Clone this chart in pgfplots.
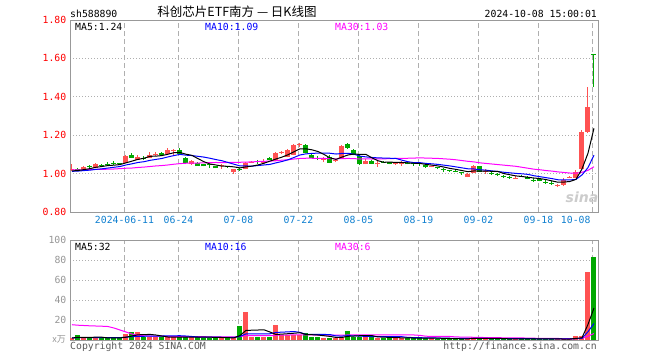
\documentclass[border=0pt]{standalone}
\usepackage{pgfplots}
\pgfplotsset{compat=1.18}
\usepackage{pgfplotstable}
\usepackage{fontspec}
\setmainfont{DejaVu Sans}
\setmonofont{DejaVu Sans Mono}
\newfontfamily\cjk{Noto Sans CJK SC}
\definecolor{kred}{RGB}{255,82,82}
\definecolor{kgreen}{RGB}{0,168,0}
\definecolor{maten}{RGB}{0,0,255}
\definecolor{mathirty}{RGB}{255,0,255}
\definecolor{dateblue}{RGB}{16,128,208}
\definecolor{gridgray}{RGB}{175,175,175}
\definecolor{bordergray}{RGB}{153,153,153}
\definecolor{tickred}{RGB}{255,0,0}
\definecolor{volgray}{RGB}{150,150,150}
\definecolor{copygray}{RGB}{90,90,90}

\pgfplotstableread{
i o h l c v
0 1.020 1.050 1.015 1.025 2
2 1.026 1.040 1.024 1.036 2
4 1.030 1.055 1.028 1.050 2.5
9 1.056 1.096 1.054 1.094 6
11 1.075 1.095 1.072 1.090 8
13 1.085 1.110 1.082 1.100 3
14 1.100 1.112 1.092 1.100 3
16 1.104 1.135 1.100 1.125 3
17 1.120 1.130 1.090 1.120 3
20 1.050 1.070 1.045 1.068 3
25 1.040 1.048 1.025 1.040 2
27 1.012 1.026 1.000 1.024 2
29 1.026 1.060 1.022 1.057 28
30 1.060 1.068 1.055 1.060 3
32 1.060 1.075 1.058 1.070 3
34 1.070 1.115 1.068 1.110 15.5
35 1.110 1.120 1.100 1.110 5
36 1.090 1.130 1.085 1.125 5
37 1.100 1.155 1.095 1.150 5.5
38 1.150 1.160 1.140 1.150 5.5
42 1.075 1.085 1.060 1.075 2
44 1.070 1.075 1.060 1.070 2
45 1.080 1.150 1.078 1.146 3.5
49 1.050 1.075 1.048 1.070 3
51 1.050 1.065 1.035 1.060 2.5
54 1.050 1.062 1.045 1.060 2
55 1.055 1.065 1.040 1.055 2
60 1.035 1.040 1.032 1.035 2
66 0.985 1.002 0.982 1.000 1.2
67 1.005 1.045 1.002 1.040 3
69 1.010 1.025 1.000 1.010 1.2
74 0.975 0.990 0.972 0.980 1.2
81 0.940 0.945 0.930 0.940 1
82 0.945 0.976 0.935 0.970 1
83 0.980 0.990 0.975 0.980 1
84 0.980 1.020 0.978 1.010 4
85 1.026 1.225 1.020 1.220 4
86 1.220 1.450 1.210 1.350 68
}\redtab

\pgfplotstableread{
i o h l c v
1 1.025 1.028 1.015 1.020 5.5
3 1.035 1.045 1.030 1.035 2
5 1.046 1.048 1.040 1.042 2
6 1.045 1.062 1.040 1.045 2
7 1.060 1.064 1.045 1.050 2
8 1.050 1.056 1.045 1.050 2
10 1.100 1.105 1.080 1.085 8
12 1.080 1.090 1.072 1.080 3
15 1.110 1.112 1.098 1.100 3
18 1.125 1.135 1.100 1.104 3
19 1.083 1.085 1.050 1.057 3
21 1.057 1.060 1.040 1.042 3
22 1.050 1.052 1.038 1.040 2.5
23 1.045 1.050 1.030 1.045 2.5
24 1.040 1.042 1.028 1.030 2.5
26 1.040 1.042 1.030 1.035 2
28 1.024 1.028 1.015 1.020 14
31 1.065 1.072 1.052 1.065 3
33 1.085 1.088 1.072 1.075 3
39 1.150 1.155 1.105 1.110 7
40 1.100 1.102 1.082 1.085 3.5
41 1.080 1.090 1.070 1.080 3.5
43 1.090 1.095 1.055 1.060 2
46 1.156 1.160 1.130 1.136 9
47 1.125 1.130 1.095 1.100 3.5
48 1.094 1.096 1.045 1.050 3.5
50 1.070 1.072 1.050 1.055 3
52 1.065 1.068 1.055 1.060 2.5
53 1.055 1.062 1.048 1.055 2
56 1.057 1.060 1.048 1.050 2
57 1.050 1.060 1.042 1.050 2
58 1.050 1.058 1.042 1.050 2
59 1.045 1.048 1.030 1.035 2
61 1.030 1.035 1.022 1.030 1.2
62 1.020 1.028 1.008 1.020 1.2
63 1.015 1.020 1.010 1.015 1.2
64 1.012 1.018 1.008 1.012 1.2
65 1.005 1.010 0.995 1.005 1.2
68 1.040 1.042 1.008 1.010 2
70 1.000 1.008 0.995 1.000 1.2
71 0.995 1.002 0.985 0.995 1.2
72 0.985 0.995 0.975 0.985 1.2
73 0.980 0.988 0.972 0.980 1.2
75 0.990 0.995 0.982 0.985 1.2
76 0.985 0.990 0.970 0.975 1.2
77 0.965 0.975 0.955 0.965 1.2
78 0.975 0.978 0.960 0.965 1
79 0.955 0.968 0.945 0.955 1
80 0.950 0.960 0.940 0.950 1
87 1.620 1.620 1.450 1.620 83
}\greentab

\pgfplotstableread{
i m5 m10 m30 v5 v10 v30
0 1.014 1.012 1.019 2.0 2.0 15.3
1 1.016 1.013 1.019 2.7 2.35 14.8
2 1.021 1.016 1.020 2.7 2.35 14.5
3 1.026 1.018 1.021 2.7 2.35 14.2
4 1.033 1.022 1.022 2.8 2.4 14.0
5 1.037 1.025 1.022 2.8 2.4 13.8
6 1.042 1.029 1.023 2.1 2.4 13.5
7 1.044 1.033 1.024 2.1 2.4 12.0
8 1.047 1.037 1.026 2.1 2.4 10.0
9 1.056 1.045 1.028 2.8 2.8 8.0
10 1.065 1.051 1.029 4.0 3.4 6.0
11 1.074 1.058 1.032 5.2 3.65 4.8
12 1.080 1.062 1.034 5.4 3.75 4.2
13 1.090 1.069 1.037 5.6 3.85 4.0
14 1.091 1.074 1.040 5.0 3.9 3.9
15 1.094 1.079 1.042 4.0 4.0 3.8
16 1.101 1.087 1.045 3.0 4.1 3.7
17 1.109 1.094 1.049 3.0 4.2 3.6
18 1.110 1.100 1.052 3.0 4.3 3.5
19 1.101 1.096 1.054 3.0 4.0 3.5
20 1.095 1.094 1.054 3.0 3.5 3.4
21 1.078 1.090 1.055 3.0 3.0 3.3
22 1.062 1.086 1.056 2.9 2.95 3.3
23 1.050 1.080 1.057 2.8 2.9 3.2
24 1.045 1.073 1.058 2.7 2.85 3.2
25 1.039 1.067 1.057 2.5 2.75 3.1
26 1.038 1.058 1.058 2.3 2.65 3.1
27 1.035 1.049 1.059 2.2 2.55 3.05
28 1.030 1.040 1.059 4.5 3.65 3.45
29 1.035 1.040 1.060 9.6 6.15 4.32
30 1.039 1.039 1.061 9.8 6.15 4.35
31 1.045 1.042 1.063 10.0 6.15 4.27
32 1.054 1.045 1.064 10.2 6.2 4.3
33 1.065 1.048 1.065 8.0 6.25 4.33
34 1.076 1.056 1.067 5.5 7.55 4.77
35 1.086 1.063 1.070 5.9 7.85 4.87
36 1.098 1.072 1.072 6.3 8.15 4.97
37 1.114 1.084 1.076 6.8 8.5 5.08
38 1.129 1.097 1.079 7.3 7.65 5.2
39 1.129 1.103 1.080 5.6 5.55 5.23
40 1.124 1.105 1.080 5.3 5.6 5.08
41 1.115 1.107 1.079 5.0 5.65 4.93
42 1.100 1.107 1.079 4.3 5.55 4.9
43 1.082 1.106 1.078 3.6 5.45 4.87
44 1.074 1.102 1.077 2.6 4.1 4.83
45 1.086 1.105 1.078 2.6 3.95 4.85
46 1.097 1.106 1.079 3.7 4.35 5.05
47 1.102 1.101 1.078 4.0 4.15 5.07
48 1.100 1.091 1.076 4.3 3.95 5.08
49 1.100 1.087 1.077 4.5 3.55 5.08
50 1.082 1.084 1.076 4.4 3.5 5.08
51 1.067 1.082 1.077 3.1 3.4 5.07
52 1.059 1.081 1.077 2.9 3.45 5.07
53 1.060 1.080 1.078 2.6 3.45 5.05
54 1.058 1.079 1.079 2.4 3.45 5.03
55 1.058 1.070 1.079 2.2 3.3 5.03
56 1.056 1.062 1.080 2.1 2.6 5.03
57 1.054 1.057 1.081 2.0 2.45 5.03
58 1.053 1.057 1.082 2.0 2.3 4.63
59 1.048 1.053 1.081 2.0 2.2 3.77
60 1.044 1.051 1.080 2.0 2.1 3.73
61 1.040 1.048 1.079 1.84 1.97 3.67
62 1.034 1.044 1.077 1.68 1.84 3.61
63 1.027 1.040 1.075 1.52 1.76 3.55
64 1.022 1.035 1.072 1.36 1.68 3.08
65 1.016 1.030 1.068 1.2 1.6 2.95
66 1.010 1.025 1.064 1.2 1.52 2.82
67 1.014 1.024 1.061 1.56 1.62 2.74
68 1.013 1.020 1.056 1.72 1.62 2.62
69 1.013 1.018 1.053 1.72 1.54 2.43
70 1.012 1.014 1.050 1.72 1.46 2.35
71 1.011 1.011 1.047 1.72 1.46 2.28
72 1.000 1.007 1.044 1.36 1.46 2.25
73 0.994 1.004 1.041 1.2 1.46 2.22
74 0.988 1.001 1.038 1.2 1.46 2.2
75 0.985 0.999 1.033 1.2 1.46 2.12
76 0.981 0.996 1.028 1.2 1.46 1.86
77 0.977 0.989 1.023 1.2 1.28 1.78
78 0.974 0.984 1.020 1.16 1.18 1.7
79 0.969 0.979 1.016 1.12 1.16 1.63
80 0.962 0.974 1.013 1.08 1.14 1.57
81 0.955 0.968 1.009 1.04 1.12 1.52
82 0.956 0.967 1.006 1.0 1.08 1.47
83 0.959 0.967 1.003 1.0 1.06 1.43
84 0.970 0.970 1.002 1.6 1.34 1.5
85 1.024 0.993 1.007 2.2 1.62 1.57
86 1.106 1.031 1.017 15.6 8.3 3.77
87 1.236 1.096 1.036 32.0 16.5 6.47
}\matab

\newcommand\monof{\ttfamily\fontsize{9.8}{10}\selectfont}

\pgfplotsset{
  klinebase/.style={
    scale only axis, width=528pt,
    xmin=-0.33, xmax=87.67,
    axis line style={draw=bordergray, line width=1pt},
    xtick={8.75,17.75,27.75,37.75,47.75,57.75,67.75,77.75,86.75},
    major tick length=0pt,
    xmajorgrids, ymajorgrids,
    x grid style={gridgray, dash pattern=on 5pt off 3pt, line width=0.9pt},
    y grid style={gridgray, dash pattern=on 1pt off 2pt, line width=0.9pt},
    tick label style={font=\monof},
  },
  seg/.style 2 args={draw=none, mark=none, error bars/.cd, y dir=plus, y explicit,
    error mark=none, error bar style={draw=#1, line width=#2, solid}},
}

\begin{document}
\begin{tikzpicture}
\path[use as bounding box] (0pt,0pt) rectangle (660pt,-360pt);

% ---------- price panel ----------
\begin{axis}[klinebase,
  at={(70pt,-20pt)}, anchor=north west, height=192pt,
  ymin=0.8, ymax=1.8,
  xticklabels={2024-06-11,06-24,07-08,07-22,08-05,08-19,09-02,09-18,{\makebox[0pt][r]{10-08\hspace{2pt}}}},
  ytick={0.8,1.0,1.2,1.4,1.6,1.8},
  yticklabels={0.80,1.00,1.20,1.40,1.60,1.80},
  xticklabel style={text=dateblue, inner sep=0pt, yshift=-4.5pt},
  yticklabel style={text=tickred, inner sep=0pt, xshift=-3.5pt},
]
% wicks
\addplot[seg={kred}{1pt}]
  table[x=i, y=l, y error expr={\thisrow{h}-\thisrow{l}}] {\redtab};
\addplot[seg={kgreen}{1pt}]
  table[x=i, y=l, y error expr={\thisrow{h}-\thisrow{l}}] {\greentab};
% bodies
\addplot[seg={kred}{5pt}]
  table[x=i, y expr={min(\thisrow{o},\thisrow{c})-0.0025},
        y error expr={max(abs(\thisrow{c}-\thisrow{o}),0.0055)}] {\redtab};
\addplot[seg={kgreen}{5pt}]
  table[x=i, y expr={min(\thisrow{o},\thisrow{c})-0.0025},
        y error expr={max(abs(\thisrow{c}-\thisrow{o}),0.0055)}] {\greentab};
% moving averages
\addplot[mathirty, line width=1pt, mark=none] table[x=i, y=m30] {\matab};
\addplot[maten, line width=1pt, mark=none] table[x=i, y=m10] {\matab};
\addplot[black, line width=1pt, mark=none] table[x=i, y=m5] {\matab};
\end{axis}

% ---------- volume panel ----------
\begin{axis}[klinebase,
  at={(70pt,-240pt)}, anchor=north west, height=100pt,
  ymin=0, ymax=100,
  xticklabels={},
  ytick={20,40,60,80,100},
  yticklabels={20,40,60,80,100},
  yticklabel style={text=volgray, inner sep=0pt, xshift=-3.5pt},
]
\addplot[seg={kred}{5pt}]
  table[x=i, y expr=0, y error expr={\thisrow{v}}] {\redtab};
\addplot[seg={kgreen}{5pt}]
  table[x=i, y expr=0, y error expr={\thisrow{v}}] {\greentab};
\addplot[mathirty, line width=1pt, mark=none] table[x=i, y=v30] {\matab};
\addplot[maten, line width=1pt, mark=none] table[x=i, y=v10] {\matab};
\addplot[black, line width=1pt, mark=none] table[x=i, y=v5] {\matab};
\end{axis}

% ---------- texts ----------
\node[anchor=base west, inner sep=0pt, font=\monof] at (70pt,-17pt) {sh588890};
\node[anchor=base, inner sep=0pt, font=\cjk\fontsize{12.5}{13}\selectfont] at (237pt,-16.5pt) {科创芯片ETF南方 — 日K线图};
\node[anchor=base east, inner sep=0pt, font=\monof] at (597pt,-17pt) {2024-10-08 15:00:01};

\node[anchor=base west, inner sep=0pt, font=\monof] at (75pt,-30pt) {MA5:1.24};
\node[anchor=base west, inner sep=0pt, font=\monof, text=maten] at (205pt,-30pt) {MA10:1.09};
\node[anchor=base west, inner sep=0pt, font=\monof, text=mathirty] at (335pt,-30pt) {MA30:1.03};

\node[anchor=base west, inner sep=0pt, font=\monof] at (75pt,-250pt) {MA5:32};
\node[anchor=base west, inner sep=0pt, font=\monof, text=maten] at (205pt,-250pt) {MA10:16};
\node[anchor=base west, inner sep=0pt, font=\monof, text=mathirty] at (335pt,-250pt) {MA30:6};

\node[anchor=east, inner sep=0pt, font=\cjk\fontsize{9}{10}\selectfont, text=volgray] at (66pt,-339pt) {x万};

\node[anchor=base west, inner sep=0pt, font=\monof, text=copygray] at (70pt,-349.5pt) {Copyright 2024 SINA.COM};
\node[anchor=base east, inner sep=0pt, font=\monof, text=copygray] at (597pt,-349.5pt) {http://finance.sina.com.cn};

\node[anchor=base, inner sep=0pt, font=\bfseries\itshape\fontsize{14}{14}\selectfont, text=gray!40] at (582pt,-202pt) {sina};
\end{tikzpicture}
\end{document}
